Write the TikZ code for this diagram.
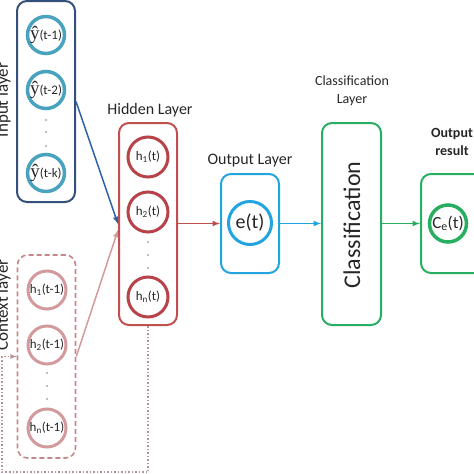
\documentclass[tikz,border=0pt]{standalone}
\usepackage{fontspec}
\setmainfont{Carlito}
\newfontfamily\hatfont{Liberation Serif}
\definecolor{inblue}{HTML}{34507A}
\definecolor{inteal}{HTML}{4AA3BE}
\definecolor{arrblue}{HTML}{2E63A8}
\definecolor{hidred}{HTML}{C0504D}
\definecolor{hiddark}{HTML}{B7424A}
\definecolor{outblue}{HTML}{22A5DE}
\definecolor{clsgreen}{HTML}{27AE60}
\definecolor{ctxpink}{HTML}{D29A9C}
\definecolor{ctxdash}{HTML}{C8888B}
\definecolor{ctxline}{HTML}{D49A9A}
\definecolor{dotgray}{HTML}{B59496}
\newcommand{\fsz}[1]{\fontsize{#1}{#1}\selectfont}
\newcommand{\yhat}[1]{{\hatfont\fsz{19}ŷ}{\fsz{13}(t-#1)}}

\begin{document}
\begin{tikzpicture}[x=1pt,y=-1pt,
  layerbox/.style={draw,rounded corners=10pt,line width=2pt,minimum width=58pt},
  unit/.style={circle,draw,line width=3.5pt,minimum size=37pt,inner sep=0pt,text=black!85},
  title/.style={font=\fsz{16},text=black!85,align=center}]
\clip (0,0) rectangle (474,474);
% boxes
\node[layerbox,draw=inblue,minimum height=201pt] (inbox) at (46,101.5) {};
\node[layerbox,draw=hidred,minimum height=202pt] (hbox) at (148,224) {};
\node[layerbox,draw=outblue,minimum height=99pt] (obox) at (250,223.5) {};
\node[layerbox,draw=clsgreen,minimum height=202pt,minimum width=59pt] (cbox) at (351.5,224) {};
\node[layerbox,draw=clsgreen,minimum height=99pt,minimum width=80pt] (rbox) at (461,223.5) {};
\node[layerbox,draw=ctxdash,dashed,dash pattern=on 5pt off 3pt,minimum height=203pt,line width=1.6pt] (ctx) at (46.5,356.5) {};
% units
\node[unit,draw=inteal] (y1) at (46,35) {\yhat{1}};
\node[unit,draw=inteal] (y2) at (46,90) {\yhat{2}};
\node[unit,draw=inteal] (yk) at (46,173) {\yhat{k}};
\node[unit,draw=hiddark,line width=3pt,minimum size=40pt,font=\fsz{13}] (h1) at (148,157) {h\textsubscript{1}(t)};
\node[unit,draw=hiddark,line width=3pt,minimum size=40pt,font=\fsz{13}] (h2) at (148,212) {h\textsubscript{2}(t)};
\node[unit,draw=hiddark,line width=3pt,minimum size=40pt,font=\fsz{13}] (hn) at (148,297) {h\textsubscript{n}(t)};
\node[unit,draw=ctxpink,line width=3pt,minimum size=38pt,font=\fsz{13}] (c1) at (47,290) {h\textsubscript{1}(t-1)};
\node[unit,draw=ctxpink,line width=3pt,minimum size=38pt,font=\fsz{13}] (c2) at (47,345) {h\textsubscript{2}(t-1)};
\node[unit,draw=ctxpink,line width=3pt,minimum size=38pt,font=\fsz{13}] (cn) at (47,428) {h\textsubscript{n}(t-1)};
\node[unit,draw=outblue,line width=3pt,minimum size=43pt,font=\fsz{20}] (et) at (250,223) {e(t)};
\node[unit,draw=clsgreen,minimum size=37pt,font=\fsz{17}] (ce) at (448,223.5) {C\textsubscript{e}(t)};
\node[rotate=90,font=\fsz{24},text=black!85] (cls) at (352,225) {Classification};
\foreach \y in {120,132,146} \fill[gray] (46,\y) circle (0.9pt);
\foreach \y in {242,255,268} \fill[gray] (148,\y) circle (0.9pt);
\foreach \y in {373,386,399} \fill[gray] (47,\y) circle (0.9pt);
% titles
\node[title] (thid) at (150,110) {Hidden Layer};
\node[title] (tout) at (250,161) {Output Layer};
\node[title,font=\fsz{14},text height=10pt] (tcls) at (352,100) {Classification\\[4pt]Layer};
\node[title,font=\bfseries\fsz{14},text height=10pt] (tres) at (452,151) {Output\\[4pt]result};
\node[rotate=90,anchor=base,inner sep=0pt,font=\fsz{17},text=black!85] (tin) at (8,100) {Input layer};
\node[rotate=90,anchor=base,inner sep=0pt,font=\fsz{17},text=black!85] (tctx) at (8,305) {Context layer};
% connectors
\draw[arrblue,line width=1.5pt,-latex] (inbox.east) -- (hbox.west);
\draw[ctxline,line width=1.5pt,-latex] (ctx.east) -- ([yshift=-6pt]hbox.west);
\draw[hidred,line width=1.5pt,-latex] (hbox.east |- obox.west) -- (obox.west);
\draw[outblue,line width=1.5pt,-latex] (obox.east) -- (cbox.west |- obox.east);
\draw[clsgreen,line width=1.5pt,-latex] (cbox.east |- rbox.west) -- (rbox.west);
\coordinate (loop) at (2,472);
\draw[dotgray,line width=1.2pt,dash pattern=on 1.5pt off 2pt,-latex] (hbox.south) |- (loop) |- (ctx.west);
\end{tikzpicture}
\end{document}
